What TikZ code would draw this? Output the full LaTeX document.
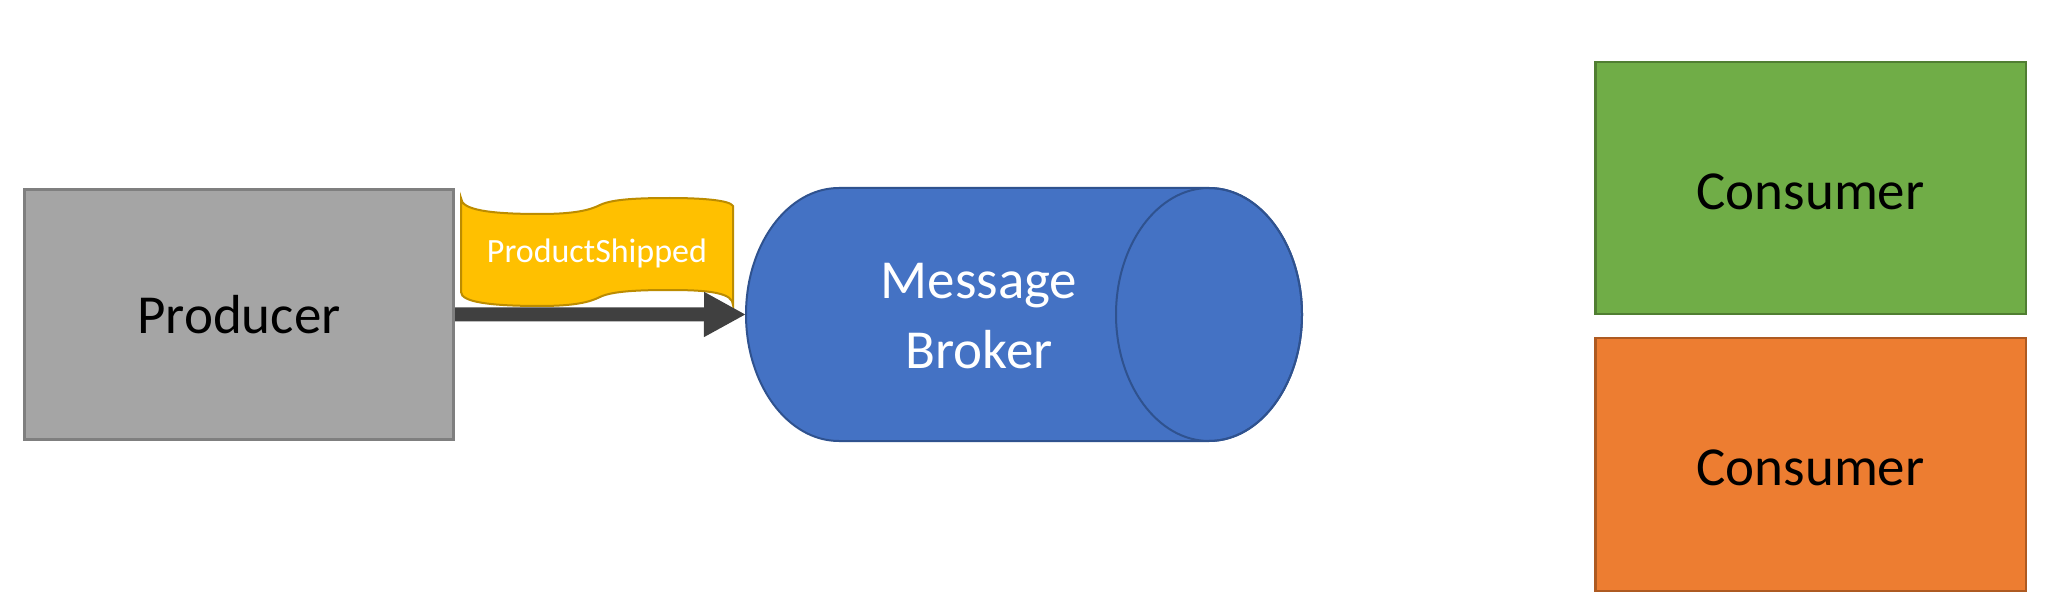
\documentclass[tikz,border=0pt]{standalone}
\usepackage{fontspec}
\setmainfont{Carlito}
\usetikzlibrary{arrows.meta}
\definecolor{prodfill}{HTML}{A5A5A5}
\definecolor{prodline}{HTML}{7F7F7F}
\definecolor{greenfill}{HTML}{70AD47}
\definecolor{greenline}{HTML}{507E32}
\definecolor{orangefill}{HTML}{ED7D31}
\definecolor{orangeline}{HTML}{AE5A21}
\definecolor{bluefill}{HTML}{4472C4}
\definecolor{blueline}{HTML}{2F528F}
\definecolor{flagfill}{HTML}{FFC000}
\definecolor{flagline}{HTML}{BC8C00}
\definecolor{arrowgray}{HTML}{404040}
\begin{document}
\begin{tikzpicture}[x=1bp,y=-1bp,
  box/.style={draw, line width=2.5bp, inner sep=0pt, font=\fontsize{55bp}{66bp}\selectfont},
  flow/.style={draw=arrowgray, line width=14bp, -{Triangle[length=42bp,width=42bp]}}]
\useasboundingbox (0,0) rectangle (2048,616);
\fill[white] (0,0) rectangle (2048,616);

% Producer
\node[box, fill=prodfill, draw=prodline, line width=3bp, minimum width=429bp, minimum height=250.5bp] (producer) at (239,314.3) {Producer};

% Broker cylinder
\node[minimum width=556bp, minimum height=253bp, inner sep=0pt, outer sep=0pt] (broker) at (1024,314.5) {};
\fill[bluefill, draw=blueline, line width=2bp]
  (839,188) -- (1209,188) arc[start angle=90, end angle=-90, x radius=93bp, y radius=126.5bp]
  -- (839,441) arc[start angle=270, end angle=90, x radius=93bp, y radius=126.5bp] -- cycle;
\draw[blueline, line width=2bp] (1209,314.5) ellipse[x radius=93bp, y radius=126.5bp];
\node[text=white, font=\fontsize{55bp}{70bp}\selectfont, align=center] (brokertext) at (979,316) {Message\\Broker};

% Message flag
\filldraw[fill=flagfill, draw=flagline, line width=2bp]
  (461,198) .. controls (461,210) and (490,214) .. (540,214)
  .. controls (575,214) and (590,210) .. (600,205)
  .. controls (612,199) and (640,198) .. (670,198)
  .. controls (700,198) and (730,200) .. (733,206)
  -- (733,305)
  .. controls (733,293) and (710,290) .. (670,290)
  .. controls (640,290) and (612,291) .. (600,297)
  .. controls (590,302) and (575,306) .. (540,306)
  .. controls (490,306) and (461,302) .. (461,292) -- cycle;
\node[text=white, font=\fontsize{34bp}{40bp}\selectfont] (msg) at (597,253) {ProductShipped};

% Arrow
\draw[flow] (producer.east) -- (broker.west);

% Consumers
\node[box, fill=greenfill, draw=greenline, minimum width=430.5bp, minimum height=251.5bp] (c1) at (1810.5,188) {\raisebox{-4bp}[\height][0pt]{Consumer}};
\node[box, fill=orangefill, draw=orangeline, minimum width=430.5bp, minimum height=252.5bp] (c2) at (1810.5,464.5) {\raisebox{-3bp}[\height][0pt]{Consumer}};
\end{tikzpicture}
\end{document}
